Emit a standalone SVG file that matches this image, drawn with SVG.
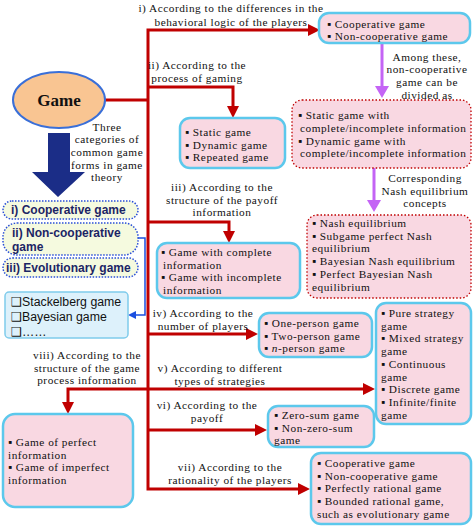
<svg xmlns="http://www.w3.org/2000/svg" width="474" height="526" viewBox="0 0 474 526">
<style>
.t{font-family:"Liberation Serif","DejaVu Serif",serif;font-size:11.3px;letter-spacing:0.5px;fill:#111}
.c{text-anchor:middle}
.box{fill:#F9D8E2;stroke:#5CC8EC;stroke-width:2.5}
.dbox{fill:#F9D8E2;stroke:#C00000;stroke-width:1.3;stroke-dasharray:1.5 2}
.pill{fill:#F5FADF;stroke:#2A4FD8;stroke-width:1.5;stroke-dasharray:1.5 1.5}
.pt{font-family:"Liberation Sans","DejaVu Sans",sans-serif;font-weight:bold;font-size:12px;fill:#1C2565}
.st{font-family:"Liberation Sans","DejaVu Sans",sans-serif;font-size:12.3px;fill:#111}
.red{fill:none;stroke:#C00000;stroke-width:3}
.pur{fill:none;stroke:#C464F5;stroke-width:3}
.blu{fill:none;stroke:#1A4FE0;stroke-width:1.5}
</style>
<defs>
<marker id="ar" viewBox="0 0 12 12" refX="6" refY="6" markerWidth="12" markerHeight="12" markerUnits="userSpaceOnUse" orient="auto"><path d="M0,0 L12,6 L0,12 z" fill="#C00000"/></marker>
<marker id="ap" viewBox="0 0 12 14" refX="6" refY="7" markerWidth="12" markerHeight="14" markerUnits="userSpaceOnUse" orient="auto"><path d="M0,0 L12,7 L0,14 z" fill="#C464F5"/></marker>
<marker id="ab" viewBox="0 0 8 8" refX="4" refY="4" markerWidth="8" markerHeight="8" markerUnits="userSpaceOnUse" orient="auto"><path d="M0,0 L8,4 L0,8 z" fill="#1A4FE0"/></marker>
</defs>

<g id="connectors">
<path class="red" d="M105,100 H148"/>
<path class="red" d="M148,100 V30 H314" marker-end="url(#ar)"/>
<path class="red" d="M148,100 V489 H304" marker-end="url(#ar)"/>
<path class="red" d="M148,87 H233 V112" marker-end="url(#ar)"/>
<path class="red" d="M148,222 H229 V237" marker-end="url(#ar)"/>
<path class="red" d="M148,334 H252" marker-end="url(#ar)"/>
<path class="red" d="M148,389 H369" marker-end="url(#ar)"/>
<path class="red" d="M148,389 H68 V408" marker-end="url(#ar)"/>
<path class="red" d="M148,430 H261" marker-end="url(#ar)"/>
<path class="pur" d="M382,43 V92" marker-end="url(#ap)"/>
<path class="pur" d="M374,168 V206" marker-end="url(#ap)"/>
<path class="blu" d="M138,238 H145 V315 H132" marker-end="url(#ab)"/>
<polygon points="48,133 70,133 70,172 85,172 58,197 32,172 48,172" fill="#1B2D87"/>
</g>

<g id="labels">
<text class="t c" x="231" y="12">i) According to the differences in the</text>
<text class="t c" x="231" y="25.5">behavioral logic of the players</text>
<text class="t c" x="197" y="69">ii) According to the</text>
<text class="t c" x="197" y="82">process of gaming</text>
<text class="t c" x="427" y="60.5">Among these,</text>
<text class="t c" x="427" y="73.2">non-cooperative</text>
<text class="t c" x="427" y="85.9">game can be</text>
<text class="t c" x="427" y="98.6">divided as</text>
<text class="t c" x="425" y="182">Corresponding</text>
<text class="t c" x="425" y="194.7">Nash equilibrium</text>
<text class="t c" x="425" y="207.4">concepts</text>
<text class="t c" x="107" y="130.5">Three</text>
<text class="t c" x="107" y="143.2">categories of</text>
<text class="t c" x="107" y="155.9">common game</text>
<text class="t c" x="107" y="168.6">forms in game</text>
<text class="t c" x="107" y="181.3">theory</text>
<text class="t c" x="222" y="191">iii) According to the</text>
<text class="t c" x="222" y="203.7">structure of the payoff</text>
<text class="t c" x="222" y="216.4">information</text>
<text class="t c" x="203" y="317">iv) According to the</text>
<text class="t c" x="203" y="330">number of players</text>
<text class="t c" x="87" y="359">viii) According to the</text>
<text class="t c" x="87" y="371.7">structure of the game</text>
<text class="t c" x="87" y="384.4">process information</text>
<text class="t c" x="220" y="372">v) According to different</text>
<text class="t c" x="220" y="385">types of strategies</text>
<text class="t c" x="207" y="408.5">vi) According to the</text>
<text class="t c" x="207" y="421.5">payoff</text>
<text class="t c" x="230" y="471">vii) According to the</text>
<text class="t c" x="230" y="484">rationality of the players</text>
</g>

<g id="game">
<ellipse cx="59" cy="100" rx="46" ry="28" fill="#F9C592" stroke="#3A6FD8" stroke-width="2"/>
<text x="59" y="106" text-anchor="middle" style="font-family:'Liberation Serif','DejaVu Serif',serif;font-weight:bold;font-size:17px;fill:#111">Game</text>
</g>

<g id="cooperative">
<rect class="box" x="319" y="13" width="151" height="30" rx="10"/>
<text class="t" x="327" y="27.5">▪  Cooperative game</text>
<text class="t" x="327" y="40.2">▪  Non-cooperative game</text>
</g>

<g id="static-dynamic">
<rect class="dbox" x="292" y="100" width="179" height="68" rx="10"/>
<text class="t" x="298" y="119">▪  Static game with</text>
<text class="t" x="300" y="131.8">complete/incomplete information</text>
<text class="t" x="298" y="144.5">▪  Dynamic game with</text>
<text class="t" x="300" y="157.2">complete/incomplete information</text>
</g>

<g id="nash">
<rect class="dbox" x="307" y="215" width="164" height="83" rx="10"/>
<text class="t" x="312" y="227">▪  Nash equilibrium</text>
<text class="t" x="312" y="239.7">▪  Subgame perfect Nash</text>
<text class="t" x="312" y="252.4">equilibrium</text>
<text class="t" x="312" y="265.1">▪  Bayesian Nash equilibrium</text>
<text class="t" x="312" y="277.8">▪  Perfect Bayesian Nash</text>
<text class="t" x="312" y="290.5">equilibrium</text>
</g>

<g id="process">
<rect class="box" x="180" y="118" width="105" height="50" rx="10"/>
<text class="t" x="185" y="136">▪  Static game</text>
<text class="t" x="185" y="148.7">▪  Dynamic game</text>
<text class="t" x="185" y="161.4">▪  Repeated game</text>
</g>

<g id="payoff-info">
<rect class="box" x="157" y="243" width="143" height="55" rx="10"/>
<text class="t" x="161" y="256">▪  Game with complete</text>
<text class="t" x="163" y="268.7">information</text>
<text class="t" x="161" y="281.4">▪  Game with incomplete</text>
<text class="t" x="163" y="294.1">information</text>
</g>

<g id="players">
<rect class="box" x="259" y="313" width="113" height="44" rx="10"/>
<text class="t" x="264" y="327">▪  One-person game</text>
<text class="t" x="264" y="339.7">▪  Two-person game</text>
<text class="t" x="264" y="352.4">▪  <tspan font-style="italic">n</tspan>-person game</text>
</g>

<g id="strategies">
<rect class="box" x="376" y="303" width="95" height="121" rx="10"/>
<text class="t" x="381" y="317">▪  Pure strategy</text>
<text class="t" x="381" y="329.7">game</text>
<text class="t" x="381" y="342.4">▪  Mixed strategy</text>
<text class="t" x="381" y="355.1">game</text>
<text class="t" x="381" y="367.8">▪  Continuous</text>
<text class="t" x="381" y="380.5">game</text>
<text class="t" x="381" y="393.2">▪  Discrete game</text>
<text class="t" x="381" y="405.9">▪  Infinite/finite</text>
<text class="t" x="381" y="418.6">game</text>
</g>

<g id="zero-sum">
<rect class="box" x="268" y="406" width="106" height="41" rx="10"/>
<text class="t" x="274" y="419">▪  Zero-sum game</text>
<text class="t" x="274" y="431.7">▪  Non-zero-sum</text>
<text class="t" x="274" y="444.4">game</text>
</g>

<g id="rationality">
<rect class="box" x="311" y="453" width="160" height="71" rx="10"/>
<text class="t" x="317" y="467">▪  Cooperative game</text>
<text class="t" x="317" y="479.7">▪  Non-cooperative game</text>
<text class="t" x="317" y="492.4">▪  Perfectly rational game</text>
<text class="t" x="317" y="505.1">▪  Bounded rational game,</text>
<text class="t" x="317" y="517.8">such as evolutionary game</text>
</g>

<g id="perfect-info">
<rect class="box" x="3" y="414" width="130" height="93" rx="12"/>
<text class="t" x="8" y="446">▪  Game of perfect</text>
<text class="t" x="8" y="458.7">information</text>
<text class="t" x="8" y="471.4">▪  Game of imperfect</text>
<text class="t" x="8" y="484.1">information</text>
</g>

<g id="cat-cooperative">
<rect class="pill" x="3" y="201" width="135" height="18" rx="9"/>
<text class="pt" x="11" y="214.3">i) Cooperative game</text>
</g>
<g id="cat-noncooperative">
<rect class="pill" x="3" y="223" width="135" height="32" rx="14"/>
<text class="pt" x="12" y="237">ii) Non-cooperative</text>
<text class="pt" x="12" y="251">game</text>
</g>
<g id="cat-evolutionary">
<rect class="pill" x="3" y="258" width="135" height="19" rx="9.5"/>
<text class="pt" x="6" y="272">iii) Evolutionary game</text>
</g>

<g id="examples">
<rect x="5" y="292" width="123" height="46" rx="4" fill="#DDF1FB" stroke="#7FCBEB" stroke-width="1.5"/>
<text class="st" x="11" y="306">❑Stackelberg game</text>
<text class="st" x="11" y="321">❑Bayesian game</text>
<text class="st" x="11" y="335.5">❑……</text>
</g>
</svg>
